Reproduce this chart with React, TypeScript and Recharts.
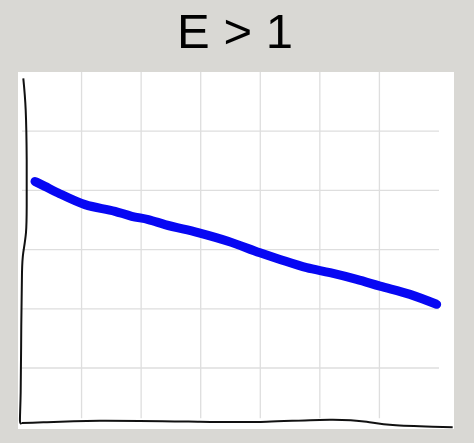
import React from "react";
import {
  ComposedChart,
  Line,
  XAxis,
  YAxis,
  ReferenceLine,
  ReferenceArea,
} from "recharts";

// Title
const TITLE = "E > 1";

// Axis domains / grid ticks
const X_DOMAIN: [number, number] = [-0.067, 7.252];
const Y_DOMAIN: [number, number] = [-0.03, 6];
const X_GRID = [1, 2, 3, 4, 5, 6];
const Y_GRID = [1, 2, 3, 4, 5];

// Blue curve (hand-drawn, slightly wobbly)
const curveX = [0.218, 0.386, 0.609, 1.058, 1.561, 1.842, 2.12, 2.4, 2.955, 3.458, 3.995, 4.331, 4.779, 5.17, 5.619, 6.009, 6.513, 6.961];
const curveY = [4.152, 4.068, 3.957, 3.76, 3.647, 3.563, 3.507, 3.423, 3.288, 3.142, 2.947, 2.834, 2.694, 2.61, 2.497, 2.384, 2.244, 2.076];

// Hand-drawn left axis
const leftAxisX = [0.022, 0.062, 0.079, 0.079, 0.067, 0.022, 0.0, -0.012, -0.022, -0.034, -0.005];
const leftAxisY = [5.894, 5.36, 4.518, 3.731, 3.288, 2.952, 2.615, 1.71, 0.594, 0.11, 0.072];

// Hand-drawn bottom axis
const bottomAxisX = [-0.005, 0.358, 1.309, 2.988, 4.108, 5.17, 5.786, 6.224, 6.895, 7.23];
const bottomAxisY = [0.072, 0.083, 0.11, 0.093, 0.093, 0.127, 0.093, 0.038, 0.009, -0.001];

const zip = (xs: number[], ys: number[]) => xs.map((x, i) => ({ x, y: ys[i] }));

const curveData = zip(curveX, curveY);
const leftAxisData = zip(leftAxisX, leftAxisY);
const bottomAxisData = zip(bottomAxisX, bottomAxisY);

const GRID_COLOR = "#dedede";

export default function App() {
  return (
    <div
      style={{
        position: "fixed",
        left: 0,
        top: 0,
        width: 474,
        height: 443,
        background: "rgb(217,216,212)",
        overflow: "hidden",
      }}
    >
      <div
        style={{
          position: "absolute",
          left: 0,
          top: 7,
          width: 470,
          textAlign: "center",
          fontFamily: "'Liberation Sans', Arial, sans-serif",
          fontSize: 49,
          lineHeight: "49px",
          color: "#000",
        }}
      >
        {TITLE}
      </div>
      <ComposedChart
        width={474}
        height={443}
        margin={{ top: 72, left: 18, right: 20, bottom: 14 }}
        style={{ position: "absolute", left: 0, top: 0 }}
      >
        <XAxis type="number" dataKey="x" domain={X_DOMAIN} allowDataOverflow hide />
        <YAxis type="number" dataKey="y" domain={Y_DOMAIN} allowDataOverflow hide />
        <ReferenceArea
          x1={X_DOMAIN[0]}
          x2={X_DOMAIN[1]}
          y1={Y_DOMAIN[0]}
          y2={Y_DOMAIN[1]}
          fill="#ffffff"
          fillOpacity={1}
          stroke="none"
        />
        {Y_GRID.map((v) => (
          <ReferenceLine
            key={"h" + v}
            segment={[
              { x: 0, y: v },
              { x: 7, y: v },
            ]}
            stroke={GRID_COLOR}
            strokeWidth={1.3}
          />
        ))}
        {X_GRID.map((v) => (
          <ReferenceLine
            key={"v" + v}
            segment={[
              { x: v, y: 0.15 },
              { x: v, y: 6 },
            ]}
            stroke={GRID_COLOR}
            strokeWidth={1.3}
          />
        ))}
        <Line
          data={leftAxisData}
          dataKey="y"
          type="natural"
          stroke="#111"
          strokeWidth={2}
          dot={false}
          isAnimationActive={false}
        />
        <Line
          data={bottomAxisData}
          dataKey="y"
          type="natural"
          stroke="#111"
          strokeWidth={2}
          dot={false}
          isAnimationActive={false}
        />
        <Line
          data={curveData}
          dataKey="y"
          type="monotone"
          stroke="#0707f3"
          strokeWidth={9}
          strokeLinecap="round"
          strokeLinejoin="round"
          dot={false}
          isAnimationActive={false}
        />
      </ComposedChart>
    </div>
  );
}
